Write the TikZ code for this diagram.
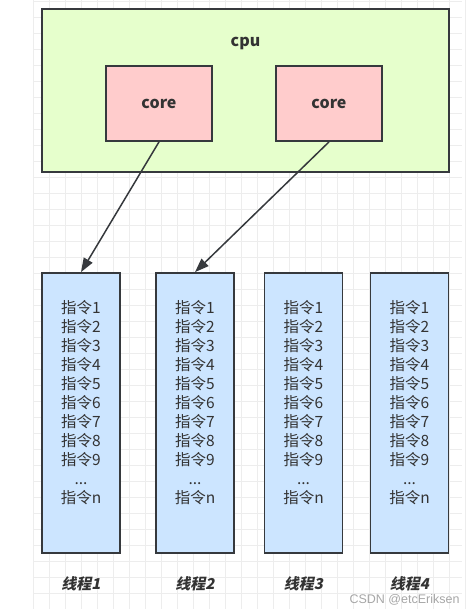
\documentclass[tikz,border=0pt]{standalone}
\usepackage{fontspec}
\setmainfont{Noto Sans CJK SC}
\newfontfamily\slantfont{Noto Sans CJK SC}[FakeSlant=0.2]
\newfontfamily\markfont{Liberation Sans}
\usepackage{tikz}
\usetikzlibrary{arrows.meta,positioning}

\definecolor{cpugreen}{RGB}{230,255,204}
\definecolor{corepink}{RGB}{255,204,204}
\definecolor{threadblue}{RGB}{204,229,255}
\definecolor{edgegray}{RGB}{54,57,61}
\definecolor{textgray}{RGB}{51,51,51}

\tikzset{
  box/.style={draw=edgegray, line width=1.8pt, inner sep=0pt},
  cpubox/.style={box, fill=cpugreen, minimum width=407pt, minimum height=163pt},
  corebox/.style={box, fill=corepink, minimum width=106pt, minimum height=75pt,
    font=\fontsize{16}{18}\selectfont\bfseries, text=textgray},
  threadbox/.style={box, fill=threadblue, minimum width=78pt, minimum height=280pt},
  listtext/.style={align=center, inner sep=0pt, text=textgray,
    font=\fontsize{15.5}{19}\selectfont},
  threadlabel/.style={text=textgray, font=\fontsize{15}{18}\slantfont\bfseries},
  link/.style={draw=edgegray, line width=1.5pt, -{Triangle[length=14pt,width=10pt]}},
  gridline/.style={gray!14, line width=0.6pt}
}

\begin{document}
\begin{tikzpicture}[x=1pt, y=-1pt]
\useasboundingbox (0,0) rectangle (474,609);

% Background grid
\foreach \gx in {33,49,...,465} {
  \draw[gridline] (\gx,0) -- (\gx,609);
}
\foreach \gy in {1,17,...,609} {
  \draw[gridline] (33,\gy) -- (462,\gy);
}

% CPU with its two cores
\node[cpubox] (cpu) at (245.5,90.5) {};
\node[text=textgray, font=\fontsize{16}{18}\selectfont\bfseries, below=26pt] (cpulbl) at (cpu.north) {cpu};
\node[corebox] (c1) at (159,103.5) {core};
\node[corebox] (c2) at (329,103.5) {core};

% Threads
\foreach \n/\x in {1/81,2/195,3/303.5,4/409.5} {
  \node[threadbox] (t\n) at (\x,413) {};
  \node[listtext, below=28pt] (l\n) at (t\n.north)
    {指令1\\指令2\\指令3\\指令4\\指令5\\指令6\\指令7\\指令8\\指令9\\...\\指令n};
  \node[threadlabel, below=19pt] (n\n) at (t\n.south) {线程\n};
}

% Cores run threads 1 and 2
\draw[link] (c1.south) -- (t1.north);
\draw[link] (c2.south) -- (t2.north);

% Watermark
\node[text=gray!70, font=\fontsize{12.5}{14}\markfont, anchor=east] (mark) at (463,600) {CSDN @etcEriksen};
\end{tikzpicture}
\end{document}
